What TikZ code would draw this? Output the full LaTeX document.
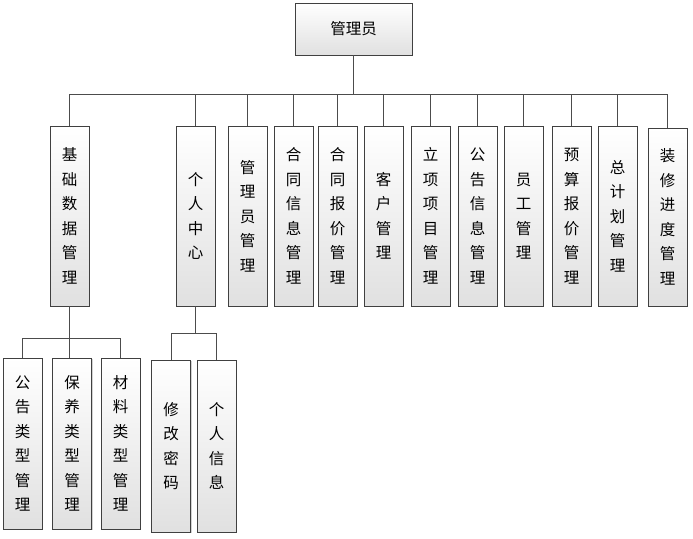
\documentclass[tikz,border=0pt]{standalone}
\usepackage{fontspec}
\newfontfamily\cjk{Noto Sans CJK SC}
\usepackage{tikz}
\usetikzlibrary{positioning,shadows,calc}
\tikzset{
    mbox/.style={
        draw=black!75, line width=0.8pt, rectangle,
        top color=white, bottom color=black!12,
        drop shadow={shadow xshift=1.2pt,shadow yshift=-1.2pt,fill=black!35},
        inner sep=0pt, align=center, font=\cjk\fontsize{15.5}{24.5}\selectfont
    }
}

\begin{document}
\begin{tikzpicture}[
      x=1pt, y=-1pt,
  vbox/.style={mbox, minimum width=39pt, minimum height=#1},
  link/.style={draw=black!70, line width=0.9pt}
      ]
\useasboundingbox (0,0) rectangle (693,538);

\node[mbox, minimum width=117pt, minimum height=52pt] (root) at (353.5,29) {管理员};

% second level
\node[vbox=180pt] (jc) at (69.5,216) {基\\础\\数\\据\\管\\理};
\node[vbox=180pt] (gr) at (195.5,216) {个\\人\\中\\心};
\foreach \nm/\cx/\txt in {
    gly/247.5/{管\\理\\员\\管\\理},
    htxx/293.5/{合\\同\\信\\息\\管\\理},
    htbj/337.5/{合\\同\\报\\价\\管\\理},
    kh/383.5/{客\\户\\管\\理},
    lx/430.5/{立\\项\\项\\目\\管\\理},
    gg/477.5/{公\\告\\信\\息\\管\\理},
    yg/523.5/{员\\工\\管\\理},
    ys/571.5/{预\\算\\报\\价\\管\\理},
    zjh/617.5/{总\\计\\划\\管\\理}}
  \node[vbox=180pt] (\nm) at (\cx,216) {\txt};
\node[vbox=178pt] (zx) at (667.5,217) {装\\修\\进\\度\\管\\理};

\coordinate (bus) at (0,94);
\draw[link] (root.south) -- (root.south |- bus);
\draw[link] (jc.north) -- (jc.north |- bus) -- (zx.north |- bus) -- (zx.north);
\foreach \nm in {gr,gly,htxx,htbj,kh,lx,gg,yg,ys,zjh}
  \draw[link] (\nm.north) -- (\nm.north |- bus);

% third level
\node[vbox=171pt] (lx1) at (22.5,443.5) {公\\告\\类\\型\\管\\理};
\node[vbox=171pt] (lx2) at (72,443.5) {保\\养\\类\\型\\管\\理};
\node[vbox=171pt] (lx3) at (120.5,443.5) {材\\料\\类\\型\\管\\理};
\node[vbox=172pt] (mm) at (171,446) {修\\改\\密\\码};
\node[vbox=172pt] (xx) at (216.5,446) {个\\人\\信\\息};

\coordinate (bar1) at (0,338);
\coordinate (bar2) at (0,333);
\draw[link] (jc.south) -- (jc.south |- lx2.north);
\draw[link] (lx1.north) -- (lx1.north |- bar1) -- (lx3.north |- bar1) -- (lx3.north);
\draw[link] (gr.south) -- (gr.south |- bar2);
\draw[link] (mm.north) -- (mm.north |- bar2) -- (xx.north |- bar2) -- (xx.north);
\end{tikzpicture}
\end{document}
